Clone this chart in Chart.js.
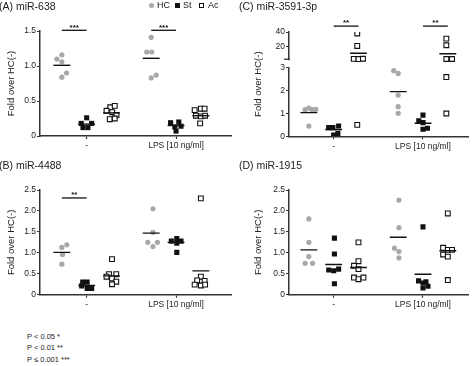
<!DOCTYPE html>
<html lang="en">
<head>
<meta charset="UTF-8">
<title>miRNA fold over HC(-)</title>
<script src="https://cdn.jsdelivr.net/npm/chart.js"></script>
<style>
  body { margin: 0; width: 474px; height: 366px; position: relative; overflow: hidden; background: #fff;
         font-family: "Liberation Sans", Arial, sans-serif; color: #222; }
  .panel { position: absolute; width: 237px; height: 160px; }
  .title { position: absolute; font-size: 10.5px; white-space: nowrap; line-height: 12px; }
  .leg { position: absolute; top: 0; font-size: 9px; line-height: 11px; }
  .mk { position: absolute; box-sizing: border-box; width: 5px; height: 5px; top: 3px; }
  .pv { position: absolute; left: 27px; font-size: 7.5px; line-height: 9px; white-space: nowrap; }
</style>
</head>
<body>
<canvas id="cA" class="panel" width="237" height="160" style="left:0;top:0"></canvas>
<canvas id="cB" class="panel" width="237" height="160" style="left:0;top:160px"></canvas>
<canvas id="cC" class="panel" width="237" height="160" style="left:237px;top:0"></canvas>
<canvas id="cD" class="panel" width="237" height="160" style="left:237px;top:160px"></canvas>

<div class="title" style="left:-1px;top:0">(A) miR-638</div>
<div class="title" style="left:-1px;top:159px">(B) miR-4488</div>
<div class="title" style="left:239px;top:0">(C) miR-3591-3p</div>
<div class="title" style="left:239px;top:159px">(D) miR-1915</div>

<span class="mk" style="left:149px;background:#a8a8a8;border-radius:50%"></span>
<span class="leg" style="left:157px">HC</span>
<span class="mk" style="left:175px;background:#111"></span>
<span class="leg" style="left:183px">St</span>
<span class="mk" style="left:199px;border:1px solid #111"></span>
<span class="leg" style="left:208px">Ac</span>

<div class="pv" style="top:332px">P &lt; 0.05 *</div>
<div class="pv" style="top:343px">P &lt; 0.01 **</div>
<div class="pv" style="top:355px">P ≤ 0.001 ***</div>

<script>
// groups: HC, St, Ac without stimulation, then HC, St, Ac with LPS
const groups = ['HC', 'St', 'Ac', 'HC', 'St', 'Ac'];
const groupPos = [1, 2, 3, 4.6, 5.6, 6.6];
const xTickPos = [2, 5.6];
const xTickLabels = ['-', 'LPS [10 ng/ml]'];

// (A) miR-638
const mir638Values = [
  [1.10, 1.16, 1.06, 0.90, 0.84],
  [0.26, 0.18, 0.18, 0.12, 0.12],
  [0.41, 0.43, 0.36, 0.34, 0.30, 0.24, 0.25],
  [1.41, 1.20, 1.20, 0.83, 0.87],
  [0.19, 0.20, 0.14, 0.13, 0.07],
  [0.37, 0.39, 0.39, 0.29, 0.28, 0.29, 0.18]
];
const mir638Jitter = [
  [-0.2, 0, 0, 0.19, 0],
  [0, -0.22, 0.2, -0.15, 0.05],
  [-0.05, 0.13, -0.2, 0.03, 0.2, -0.07, 0.13],
  [0, -0.18, 0.02, 0, 0.2],
  [-0.22, 0.11, 0.2, -0.05, 0],
  [-0.25, 0, 0.15, -0.2, 0, 0.17, -0.03]
];
const mir638Means = [1.01, 0.17, 0.33, 1.11, 0.15, 0.29];
const mir638Sig = [[0, 1, 1.51, '***'], [3, 4, 1.51, '***']];

// (B) miR-4488
const mir4488Values = [
  [1.13, 1.19, 0.96, 0.73],
  [0.30, 0.30, 0.21, 0.15, 0.15],
  [0.85, 0.49, 0.49, 0.43, 0.39, 0.31, 0.25],
  [2.05, 1.49, 1.25, 1.25, 1.15],
  [1.34, 1.28, 1.28, 1.23, 1.01],
  [2.30, 0.43, 0.34, 0.33, 0.24, 0.22, 0.24]
];
const mir4488Jitter = [
  [0, 0.2, 0.03, 0],
  [-0.16, 0.02, -0.2, 0.02, 0.2],
  [0.02, -0.1, 0.19, -0.2, 0.02, 0.19, 0.02],
  [0.07, 0.07, -0.14, 0.25, 0.07],
  [0.03, -0.19, 0.2, 0.03, 0.03],
  [0, 0, -0.15, 0.15, -0.25, 0, 0.17]
];
const mir4488Means = [1.01, 0.22, 0.45, 1.47, 1.25, 0.57];
const mir4488Sig = [[0, 1, 2.31, '**']];

// (C) miR-3591-3p, broken y axis (0-3 and 3-40)
const mir3591Values = [
  [1.17, 1.24, 1.17, 1.18, 0.45],
  [0.38, 0.38, 0.45, 0.06, 0.13],
  [38, 21, 3.4, 3.2, 3.6, 0.5],
  [2.88, 2.76, 1.81, 1.30, 1.01],
  [0.93, 0.68, 0.60, 0.31, 0.35],
  [31, 22, 3.3, 3.3, 2.6, 1.0]
];
const mir3591Jitter = [
  [-0.15, 0, 0.13, 0.28, 0],
  [-0.2, -0.03, 0.2, 0, 0.17],
  [-0.05, -0.05, -0.19, 0, 0.18, -0.05],
  [-0.18, 0, 0, 0, 0],
  [0, -0.17, 0, 0, 0.18],
  [-0.06, -0.06, -0.06, 0.17, -0.06, -0.06]
];
const mir3591Means = [1.04, 0.30, 11, 1.96, 0.57, 10.5];
const mir3591Sig = [[1, 2, 48, '**'], [4, 5, 48, '**']];
const mir3591Ticks = [0, 1, 2, 3, 20, 40];

// (D) miR-1915
const mir1915Values = [
  [1.81, 1.25, 0.91, 0.75, 0.75],
  [1.35, 0.97, 0.59, 0.57, 0.61, 0.26],
  [1.25, 0.80, 0.69, 0.61, 0.41, 0.37, 0.41],
  [2.26, 1.60, 1.11, 1.03, 0.88],
  [1.62, 0.33, 0.28, 0.31, 0.20, 0.16],
  [1.94, 1.12, 1.07, 1.07, 0.96, 0.91, 0.35]
];
const mir1915Jitter = [
  [0, 0, 0, -0.15, 0.15],
  [0.03, 0.03, -0.2, 0, 0.2, 0.03],
  [0, 0, -0.18, 0, -0.18, 0, 0.2],
  [0.03, 0.03, -0.15, 0.03, 0.03],
  [0, -0.18, 0, 0.12, 0.2, 0],
  [0, -0.19, 0, 0.17, -0.19, 0, 0]
];
const mir1915Means = [1.07, 0.72, 0.65, 1.37, 0.49, 1.05];

// broken axis: values above 3 are squeezed into the top segment
const upperBase = 3.382, upperSlope = 0.03225;
const brokenY = v => v <= 3 ? v : upperBase + (v - 3) * upperSlope;
const plainY = v => v;

const FONT = '"Liberation Sans", Arial, sans-serif';
const INK = '#222';
const markerStyle = {
  HC: { pointStyle: 'circle', pointRadius: 2.6, backgroundColor: '#a8a8a8', borderColor: '#a8a8a8', borderWidth: 0 },
  St: { pointStyle: 'rect', pointRadius: 3.6, backgroundColor: '#111', borderColor: '#111', borderWidth: 0 },
  Ac: { pointStyle: 'rect', pointRadius: 3.4, backgroundColor: '#fff', borderColor: '#111', borderWidth: 1.1 }
};

function buildSets(values, jitter, means, sigs, map) {
  const sets = [];
  values.forEach((vals, g) => {
    sets.push(Object.assign({
      type: 'scatter',
      order: 2,
      data: vals.map((v, i) => ({ x: groupPos[g] + jitter[g][i], y: map(v) }))
    }, markerStyle[groups[g]]));
  });
  means.forEach((m, g) => {
    sets.push({
      type: 'line', order: 1, borderColor: '#111', borderWidth: 1.4, pointRadius: 0,
      data: [{ x: groupPos[g] - 0.34, y: map(m) }, { x: groupPos[g] + 0.34, y: map(m) }]
    });
  });
  sigs.forEach(s => {
    sets.push({
      type: 'line', order: 0, borderColor: '#111', borderWidth: 1.3, pointRadius: 0, clip: false,
      data: [{ x: groupPos[s[0]], y: map(s[2]) }, { x: groupPos[s[1]], y: map(s[2]) }]
    });
  });
  return sets;
}

function starsPlugin(sigs, map) {
  return {
    id: 'stars',
    afterDatasetsDraw(chart) {
      const { ctx, scales: { x, y } } = chart;
      ctx.save();
      ctx.fillStyle = '#111';
      ctx.font = 'bold 8px ' + FONT;
      ctx.textAlign = 'center';
      ctx.textBaseline = 'bottom';
      sigs.forEach(s => {
        const mid = (groupPos[s[0]] + groupPos[s[1]]) / 2;
        ctx.fillText(s[3], x.getPixelForValue(mid), y.getPixelForValue(map(s[2])) + 1);
      });
      ctx.restore();
    }
  };
}

const axisBreak = {
  id: 'axisBreak',
  afterDraw(chart) {
    const { ctx, chartArea, scales: { y } } = chart;
    const lo = y.getPixelForValue(3), hi = y.getPixelForValue(upperBase);
    const x0 = chartArea.left;
    ctx.save();
    ctx.fillStyle = '#fff';
    ctx.fillRect(x0 - 2, hi + 1, 4, lo - hi - 2);
    ctx.strokeStyle = '#333';
    ctx.lineWidth = 1.3;
    ctx.beginPath();
    ctx.moveTo(x0 - 5, hi);
    ctx.lineTo(x0 + 1, hi);
    ctx.stroke();
    ctx.restore();
  }
};

function makePanel(id, cfg) {
  const yScale = {
    type: 'linear', min: 0, max: cfg.yMax,
    border: { color: '#333', width: 1.5 },
    grid: { drawOnChartArea: false, tickLength: 3, color: '#333', tickWidth: 1.2 },
    ticks: { color: INK, font: { family: FONT, size: 8.5 }, padding: 1 },
    title: { display: true, text: 'Fold over HC(-)', color: INK, font: { family: FONT, size: 9.5 },
             padding: { top: cfg.titlePad, bottom: 0 } },
    afterFit: s => { s.width = cfg.yWidth; }
  };
  if (cfg.yTicks) {
    yScale.afterBuildTicks = s => { s.ticks = cfg.yTicks.map(v => ({ value: cfg.map(v) })); };
    yScale.ticks.callback = (v, i) => String(cfg.yTicks[i]);
  } else {
    yScale.ticks.stepSize = 0.5;
    yScale.ticks.callback = v => v === 0 ? '0' : v.toFixed(1);
  }
  const plugins = [starsPlugin(cfg.sigs, cfg.map)];
  if (cfg.broken) plugins.push(axisBreak);

  new Chart(document.getElementById(id), {
    type: 'scatter',
    data: { datasets: buildSets(cfg.values, cfg.jitter, cfg.means, cfg.sigs, cfg.map) },
    plugins: plugins,
    options: {
      responsive: false,
      animation: false,
      layout: { padding: { top: cfg.top, left: 0, right: 0, bottom: 0 } },
      plugins: { legend: { display: false }, tooltip: { enabled: false } },
      scales: {
        x: {
          type: 'linear', min: cfg.xMin, max: cfg.xMax,
          border: { color: '#333', width: 1.5 },
          grid: { drawOnChartArea: false, tickLength: 3, color: '#333', tickWidth: 1.2 },
          afterBuildTicks: s => { s.ticks = xTickPos.map(v => ({ value: v })); },
          ticks: { color: INK, font: { family: FONT, size: 8.5 }, padding: 2, maxRotation: 0,
                   callback: (v, i) => xTickLabels[i] },
          afterFit: s => { s.height = cfg.xHeight; }
        },
        y: yScale
      }
    }
  });
}

makePanel('cA', { values: mir638Values, jitter: mir638Jitter, means: mir638Means, sigs: mir638Sig,
  map: plainY, yMax: 1.5, top: 31, xHeight: 24, yWidth: 40, titlePad: 6, xMin: 0.12, xMax: 7.85 });
makePanel('cB', { values: mir4488Values, jitter: mir4488Jitter, means: mir4488Means, sigs: mir4488Sig,
  map: plainY, yMax: 2.5, top: 30, xHeight: 25.3, yWidth: 40, titlePad: 6, xMin: 0.12, xMax: 7.85 });
makePanel('cC', { values: mir3591Values, jitter: mir3591Jitter, means: mir3591Means, sigs: mir3591Sig,
  map: brokenY, yMax: brokenY(40), yTicks: mir3591Ticks, broken: true,
  top: 32, xHeight: 23.7, yWidth: 52, titlePad: 16, xMin: 0.2, xMax: 7.45 });
makePanel('cD', { values: mir1915Values, jitter: mir1915Jitter, means: mir1915Means, sigs: [],
  map: plainY, yMax: 2.5, top: 30, xHeight: 25.3, yWidth: 52, titlePad: 16, xMin: 0.2, xMax: 7.45 });
</script>
</body>
</html>
